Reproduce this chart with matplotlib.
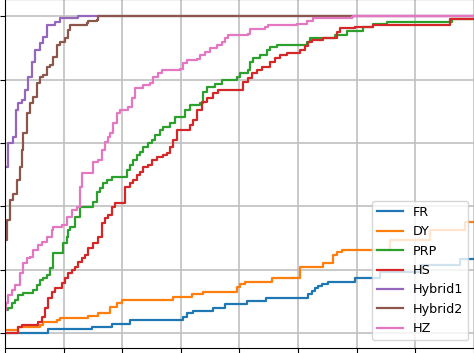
import matplotlib
matplotlib.use("Agg")
import matplotlib.pyplot as plt

# performance profile: tau (x) vs fraction of problems solved (y)
labels = ["FR", "DY", "PRP", "HS", "Hybrid1", "Hybrid2", "HZ"]
x_end = 9.1

fr_x = [1.0, 1.734, 2.485, 2.826, 3.133, 4.038, 4.106, 4.208, 4.549, 4.754, 5.13, 5.454,
        6.171, 6.239, 6.29, 6.341, 6.41, 6.512, 6.973, 7.399, 8.082, 8.765]
fr_y = [0.0, 0.013, 0.019, 0.028, 0.041, 0.05, 0.063, 0.069, 0.079, 0.091, 0.101, 0.11,
        0.123, 0.132, 0.142, 0.148, 0.155, 0.161, 0.174, 0.192, 0.215, 0.233]

dy_x = [1.0, 1.222, 1.597, 1.648, 1.887, 1.939, 2.416, 2.587, 2.792, 2.911, 2.997, 3.867,
        4.191, 4.379, 4.966, 5.01, 5.096, 5.556, 6.034, 6.427, 6.598, 6.666, 6.751, 7.57,
        8.253, 8.85]
dy_y = [0.009, 0.019, 0.025, 0.035, 0.041, 0.047, 0.054, 0.063, 0.082, 0.095, 0.104, 0.114,
        0.123, 0.129, 0.145, 0.155, 0.161, 0.174, 0.208, 0.221, 0.246, 0.256, 0.262, 0.293,
        0.325, 0.35]

prp_x = [1.0, 1.051, 1.119, 1.171, 1.222, 1.307, 1.478, 1.546, 1.597, 1.648, 1.717, 1.768,
         1.819, 1.99, 2.058, 2.075, 2.109, 2.195, 2.28, 2.502, 2.57, 2.621, 2.672, 2.741,
         2.826, 3.082, 3.133, 3.184, 3.253, 3.304, 3.355, 3.44, 3.509, 3.56, 3.645, 3.696,
         3.816, 3.901, 4.072, 4.157, 4.328, 4.379, 4.447, 4.584, 4.703, 4.959, 5.01, 5.147,
         5.181, 5.232, 5.352, 5.471, 5.522, 5.642, 6.154, 6.205, 6.631, 6.836, 7.109, 7.28,
         7.519, 8.628]
prp_y = [0.073, 0.079, 0.095, 0.104, 0.12, 0.126, 0.136, 0.151, 0.167, 0.174, 0.183, 0.205,
         0.252, 0.284, 0.303, 0.325, 0.334, 0.366, 0.397, 0.413, 0.445, 0.457, 0.473, 0.483,
         0.492, 0.514, 0.53, 0.546, 0.562, 0.571, 0.587, 0.599, 0.609, 0.625, 0.64, 0.65,
         0.662, 0.681, 0.703, 0.719, 0.726, 0.76, 0.776, 0.785, 0.798, 0.808, 0.82, 0.83,
         0.855, 0.868, 0.877, 0.893, 0.902, 0.909, 0.918, 0.931, 0.94, 0.953, 0.965, 0.975,
         0.981, 0.991]

hs_x = [1.0, 1.222, 1.29, 1.563, 1.631, 1.683, 1.734, 1.802, 1.853, 1.973, 2.024, 2.075,
        2.143, 2.195, 2.246, 2.314, 2.365, 2.416, 2.502, 2.587, 2.655, 2.706, 2.758, 2.826,
        2.877, 3.048, 3.133, 3.184, 3.253, 3.304, 3.355, 3.44, 3.509, 3.594, 3.696, 3.765,
        3.816, 3.867, 3.935, 4.157, 4.208, 4.276, 4.362, 4.447, 4.549, 4.635, 5.061, 5.147,
        5.215, 5.3, 5.386, 5.522, 5.608, 5.693, 5.812, 6.034, 6.119, 6.171, 6.239, 6.427,
        6.666, 6.717, 6.973, 7.28, 8.594]
hs_y = [0.0, 0.019, 0.025, 0.035, 0.05, 0.079, 0.11, 0.129, 0.142, 0.158, 0.174, 0.189,
        0.199, 0.208, 0.224, 0.237, 0.246, 0.268, 0.284, 0.303, 0.347, 0.363, 0.372, 0.397,
        0.41, 0.461, 0.473, 0.483, 0.498, 0.508, 0.524, 0.53, 0.546, 0.555, 0.562, 0.568,
        0.587, 0.609, 0.64, 0.656, 0.672, 0.703, 0.729, 0.741, 0.757, 0.767, 0.792, 0.804,
        0.82, 0.83, 0.839, 0.855, 0.868, 0.877, 0.883, 0.893, 0.905, 0.918, 0.924, 0.931,
        0.95, 0.962, 0.965, 0.972, 0.991]

h1_x = [1.0, 1.051, 1.137, 1.188, 1.222, 1.29, 1.341, 1.392, 1.46, 1.512, 1.597, 1.648,
        1.717, 1.853, 1.939, 2.246]
h1_y = [0.524, 0.6, 0.618, 0.703, 0.726, 0.735, 0.767, 0.808, 0.855, 0.893, 0.915, 0.934,
        0.972, 0.981, 0.994, 1.0]

h2_x = [1.0, 1.03, 1.085, 1.137, 1.205, 1.256, 1.29, 1.307, 1.375, 1.427, 1.478, 1.546,
        1.597, 1.648, 1.717, 1.768, 1.819, 1.887, 1.939, 2.024, 2.075, 2.109, 2.4, 2.416,
        2.57, 2.587]
h2_y = [0.293, 0.356, 0.42, 0.44, 0.483, 0.524, 0.577, 0.63, 0.694, 0.726, 0.745, 0.789,
        0.808, 0.814, 0.839, 0.845, 0.871, 0.909, 0.918, 0.931, 0.956, 0.972, 0.978, 0.984,
        0.987, 1.0]

hz_x = [1.0, 1.017, 1.051, 1.119, 1.171, 1.256, 1.307, 1.375, 1.427, 1.478, 1.563, 1.631,
        1.717, 1.802, 1.819, 1.973, 2.058, 2.143, 2.229, 2.28, 2.314, 2.451, 2.502, 2.587,
        2.655, 2.706, 2.758, 2.792, 2.843, 2.911, 2.962, 3.099, 3.167, 3.218, 3.355, 3.474,
        3.526, 3.611, 3.679, 3.986, 4.038, 4.106, 4.276, 4.328, 4.413, 4.498, 4.618, 4.703,
        4.754, 4.805, 5.147, 5.181, 5.437, 5.488, 5.983, 6.154, 6.256, 6.922, 6.939]
hz_y = [0.073, 0.095, 0.12, 0.136, 0.151, 0.189, 0.221, 0.237, 0.24, 0.262, 0.278, 0.287,
        0.303, 0.325, 0.334, 0.341, 0.366, 0.388, 0.397, 0.461, 0.505, 0.505, 0.539, 0.546,
        0.577, 0.603, 0.618, 0.631, 0.662, 0.694, 0.703, 0.713, 0.741, 0.773, 0.782, 0.789,
        0.808, 0.82, 0.83, 0.833, 0.852, 0.861, 0.864, 0.877, 0.886, 0.899, 0.909, 0.918,
        0.931, 0.94, 0.943, 0.959, 0.965, 0.972, 0.975, 0.984, 0.994, 0.997, 1.0]

series = [(fr_x, fr_y), (dy_x, dy_y), (prp_x, prp_y), (hs_x, hs_y),
          (h1_x, h1_y), (h2_x, h2_y), (hz_x, hz_y)]

fig = plt.figure(figsize=(4.74, 3.53), dpi=100)
ax = fig.add_axes([5 / 474, 5 / 353, 471 / 474, 349 / 353])

for (xs, ys), lab in zip(series, labels):
    ax.plot(xs + [x_end], ys + [ys[-1]], drawstyle="steps-post", lw=1.6, label=lab)

ax.set_xlim(1, 1 + 471 / 58.6)
ax.set_ylim(-0.047, 1.054)
ax.set_xticks(range(1, 10))
ax.set_yticks([0, 0.2, 0.4, 0.6, 0.8, 1.0])
ax.tick_params(labelbottom=False, labelleft=False)
ax.grid(True, color="#c0c0c0", lw=1.2)
ax.legend(loc="lower right", fontsize=9.2, borderaxespad=0.6)

fig.savefig("out.png", dpi=100)
